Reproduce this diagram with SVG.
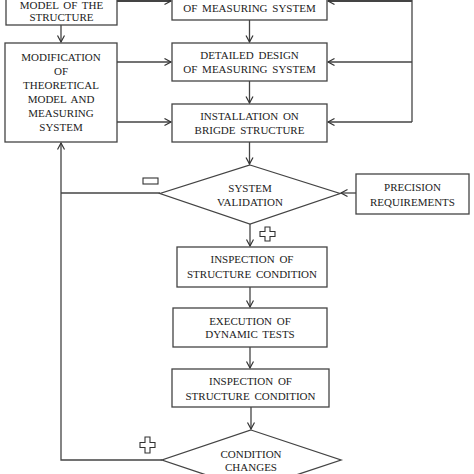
<svg xmlns="http://www.w3.org/2000/svg" width="474" height="474" viewBox="0 0 474 474">
<defs>
<marker id="ah" markerWidth="10" markerHeight="10" refX="7" refY="4" orient="auto" markerUnits="userSpaceOnUse">
<path d="M0.5,0.5 L7,4 L0.5,7.5" fill="none" stroke="#333" stroke-width="1.2"/>
</marker>
<style>
.box{fill:#fff;stroke:#444;stroke-width:1.3}
.t{font-family:'Liberation Serif','DejaVu Serif',serif;font-size:11px;fill:#222;text-anchor:middle;word-spacing:2px}
.c{fill:none;stroke:#444;stroke-width:1.3}
.a{marker-end:url(#ah)}
.sym{fill:#fff;stroke:#333;stroke-width:1.1}
</style>
</defs>
<rect width="474" height="474" fill="#fff"/>
<g id="connectors">
<line class="c a" x1="117" y1="1" x2="171" y2="1" style="stroke-width:2"/>
<polyline class="c" points="412,0 412,122"/>
<line class="c a" x1="412" y1="1" x2="328" y2="1" style="stroke-width:2"/>
<line class="c a" x1="412" y1="62" x2="328" y2="62"/>
<line class="c a" x1="412" y1="122" x2="328" y2="122"/>
<line class="c a" x1="61" y1="25" x2="61" y2="42"/>
<line class="c a" x1="117" y1="62" x2="171" y2="62"/>
<line class="c a" x1="117" y1="122" x2="171" y2="122"/>
<line class="c a" x1="249.5" y1="20" x2="249.5" y2="42"/>
<line class="c a" x1="249.5" y1="81" x2="249.5" y2="103"/>
<line class="c a" x1="249.5" y1="142" x2="249.5" y2="164"/>
<line class="c a" x1="250" y1="224" x2="250" y2="246"/>
<line class="c a" x1="250" y1="287" x2="250" y2="307"/>
<line class="c a" x1="250" y1="347" x2="250" y2="368"/>
<line class="c a" x1="251" y1="407" x2="251" y2="429"/>
<line class="c a" x1="356" y1="193" x2="341" y2="193"/>
<polyline class="c" points="160,193 61,193"/>
<polyline class="c a" points="162,460 61,460 61,143"/>
</g>
<g id="model">
<rect class="box" x="6" y="-20" width="111" height="45"/>
<text class="t" x="61.5" y="9">MODEL OF THE</text>
<text class="t" x="61.5" y="21">STRUCTURE</text>
</g>
<g id="prelim-design">
<rect class="box" x="172" y="-20" width="155" height="40"/>
<text class="t" x="249.5" y="12">OF MEASURING SYSTEM</text>
</g>
<g id="modification">
<rect class="box" x="5" y="43" width="112" height="99"/>
<text class="t" x="61" y="61">MODIFICATION</text>
<text class="t" x="61" y="75">OF</text>
<text class="t" x="61" y="89">THEORETICAL</text>
<text class="t" x="61" y="103">MODEL AND</text>
<text class="t" x="61" y="117">MEASURING</text>
<text class="t" x="61" y="131">SYSTEM</text>
</g>
<g id="detailed-design">
<rect class="box" x="172" y="43" width="155" height="38"/>
<text class="t" x="249.5" y="59">DETAILED DESIGN</text>
<text class="t" x="249.5" y="73">OF MEASURING SYSTEM</text>
</g>
<g id="installation">
<rect class="box" x="172" y="104" width="155" height="38"/>
<text class="t" x="249.5" y="120">INSTALLATION ON</text>
<text class="t" x="249.5" y="134">BRIGDE STRUCTURE</text>
</g>
<g id="validation">
<polygon class="box" points="250,165 340,193.5 250,224 160,193.5"/>
<text class="t" x="250" y="192">SYSTEM</text>
<text class="t" x="250" y="206">VALIDATION</text>
</g>
<g id="minus">
<rect class="sym" x="143" y="178" width="15" height="6"/>
</g>
<g id="precision">
<rect class="box" x="356" y="174" width="113" height="40"/>
<text class="t" x="412.5" y="191">PRECISION</text>
<text class="t" x="412.5" y="206">REQUIREMENTS</text>
</g>
<g id="plus1">
<polygon class="sym" points="265,227 270,227 270,231.5 275,231.5 275,236.5 270,236.5 270,241 265,241 265,236.5 260,236.5 260,231.5 265,231.5"/>
</g>
<g id="inspection1">
<rect class="box" x="177" y="247" width="150" height="40"/>
<text class="t" x="252" y="263">INSPECTION OF</text>
<text class="t" x="252" y="278">STRUCTURE CONDITION</text>
</g>
<g id="execution">
<rect class="box" x="173" y="308" width="154" height="39"/>
<text class="t" x="250" y="325">EXECUTION OF</text>
<text class="t" x="250" y="338">DYNAMIC TESTS</text>
</g>
<g id="inspection2">
<rect class="box" x="172" y="369" width="157" height="38"/>
<text class="t" x="250.5" y="385">INSPECTION OF</text>
<text class="t" x="250.5" y="400">STRUCTURE CONDITION</text>
</g>
<g id="condition">
<polygon class="box" points="251,430 341,460 251,490 162,460"/>
<text class="t" x="251" y="458">CONDITION</text>
<text class="t" x="251" y="471">CHANGES</text>
</g>
<g id="plus2">
<polygon class="sym" points="145,437 150,437 150,442.5 155,442.5 155,447.5 150,447.5 150,453 145,453 145,447.5 140,447.5 140,442.5 145,442.5"/>
</g>
</svg>
